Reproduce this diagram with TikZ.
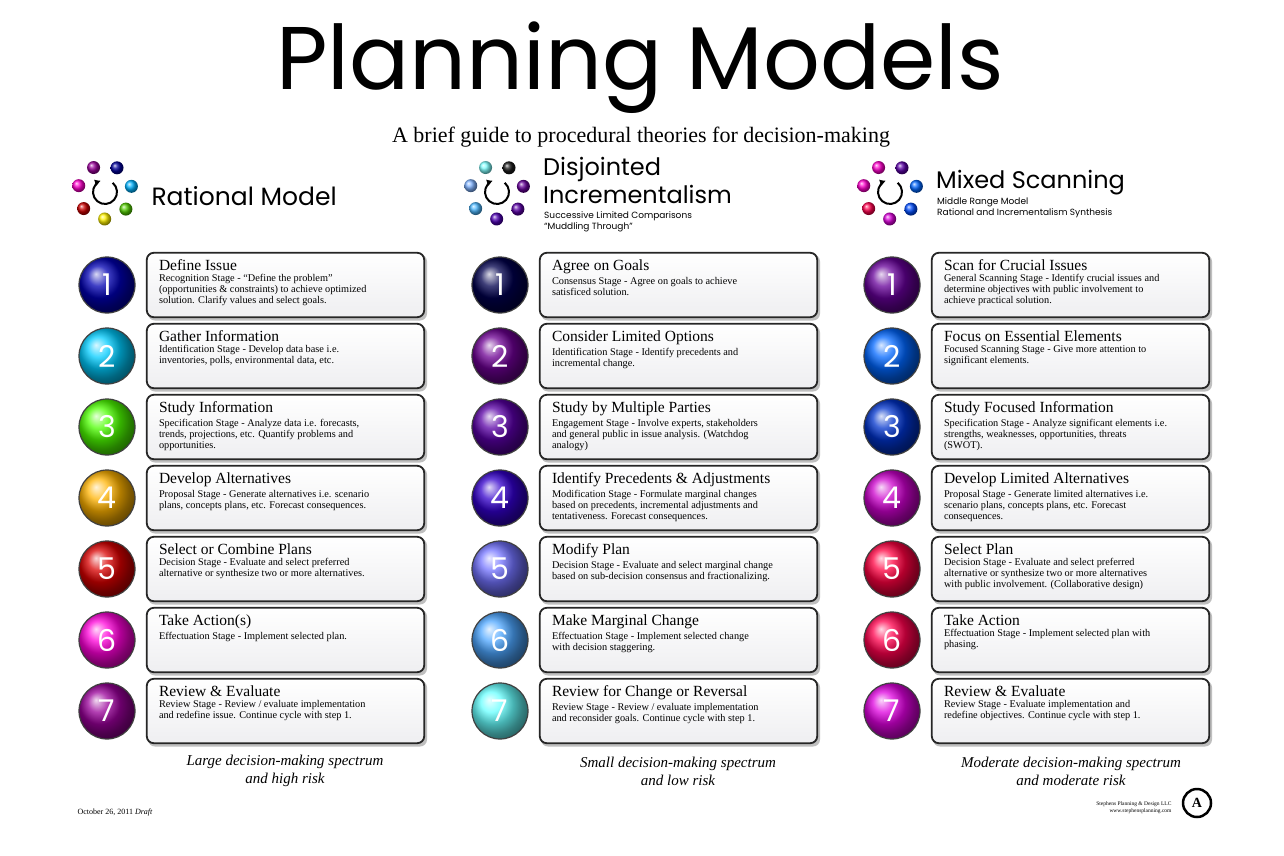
\documentclass[tikz,border=0pt]{standalone}
\usepackage{fontspec}
\setmainfont{Liberation Serif}
\newfontfamily\headfont{Poppins}
\usetikzlibrary{arrows.meta,calc}
\tikzset{
  numball/.style={circle, minimum size=56pt, inner sep=0pt, text=white, font=\headfont\fontsize{30}{30}\selectfont},
  stagebox/.style={rounded corners=7pt, minimum width=277pt, minimum height=64pt, top color=white, bottom color=blue!8!gray!12},
  rim/.style={draw=black!85, line width=1.8pt, rounded corners=7pt},
  ballrim/.style={draw=black!75, line width=1.2pt},
  shadowbox/.style={rounded corners=7pt, fill=black!25, minimum width=279pt, minimum height=66pt},
  stagetitle/.style={anchor=north west, align=left, inner sep=0pt, font=\fontsize{15.5}{16}\selectfont},
  stagebody/.style={anchor=north west, align=left, inner sep=0pt, font=\fontsize{10.3}{11}\selectfont},
  dot/.style={circle, minimum size=13pt, inner sep=0pt},
  caption/.style={align=center, font=\itshape\fontsize{15}{18}\selectfont},
}
\newcommand\stg[7]{%
  \node[numball, ball color=#3] (c#5) at (#1,#2) {#4};
  \draw[ballrim] (c#5.center) circle[radius=28pt];
  \node[shadowbox] (sh#5) at ([xshift=180.5pt,yshift=-2.5pt]c#5.center) {};
  \node[stagebox] (b#5) at ([xshift=178.5pt]c#5.center) {};
  \draw[rim] (b#5.north west) rectangle (b#5.south east);
  \node[stagetitle] (t#5) at ([xshift=12pt,yshift=-7pt]b#5.north west) {#6};
  \node[stagebody] (d#5) at ([yshift=-3pt]t#5.south west) {#7};
}
\newcommand\icon[9]{%
  \coordinate (#1) at #2;
  \foreach \cc [count=\k from 0] in {#3,#4,#5,#6,#7,#8,#9}
    \node[dot, ball color=\cc] (#1d\k) at ($(#1)+(-115+\k*51.43:27)$) {};
  \draw[line width=2pt, -{Latex[length=6pt,width=7pt]}] ($(#1)+(-50:12)$) arc[start angle=-50, end angle=250, radius=12];
}
\begin{document}
\begin{tikzpicture}[x=1pt,y=-1pt]
\fill[white] (0,0) rectangle (1284,856);
\useasboundingbox (0,0) rectangle (1284,856);
\node[font=\headfont\fontsize{89}{89}\selectfont] (title) at (640,68) {Planning Models};
\node[font=\fontsize{22}{24}\selectfont] (sub) at (641,137) {A brief guide to procedural theories for decision-making};

\icon{i1}{(105,192)}{violet!80!magenta}{blue!60!black}{cyan!70!blue}{green!60!yellow!80!black}{yellow!90!orange}{red!80!black}{magenta!80!red}
\icon{i2}{(497,192)}{cyan!50}{black!90}{violet!80!blue}{violet!70!blue}{violet!60!blue}{blue!40!cyan!70}{cyan!40!blue!50}
\icon{i3}{(890,192)}{magenta!80!red}{violet!70!blue}{blue!60!cyan}{blue!70!cyan}{magenta!70!violet}{red!70!magenta}{magenta!80!red}

\node[anchor=west, font=\headfont\fontsize{25}{26}\selectfont] (h1) at (148,196) {Rational Model};
\node[anchor=west, align=left, inner sep=0pt, font=\headfont\fontsize{24}{28}\selectfont] (h2) at (543,180) {Disjointed\\Incrementalism};
\node[anchor=north west, align=left, inner sep=0pt, font=\headfont\fontsize{9}{11}\selectfont] (h2s) at (544,211) {Successive Limited Comparisons\\“Muddling Through”};
\node[anchor=west, font=\headfont\fontsize{24}{26}\selectfont, inner sep=0pt] (h3) at (936,183) {Mixed Scanning};
\node[anchor=north west, align=left, inner sep=0pt, font=\headfont\fontsize{9}{11}\selectfont] (h3s) at (937,197) {Middle Range Model\\Rational and Incrementalism Synthesis};

\stg{107}{285}{blue!70!black}{1}{a1}{Define Issue}{Recognition Stage - “Define the problem”\\(opportunities \& constraints) to achieve optimized\\solution. Clarify values and select goals.}
\stg{107}{356}{cyan!80!blue}{2}{a2}{Gather Information}{Identification Stage - Develop data base i.e.\\inventories, polls, environmental data, etc.}
\stg{107}{427}{green!70!yellow}{3}{a3}{Study Information}{Specification Stage - Analyze data i.e. forecasts,\\trends, projections, etc. Quantify problems and\\opportunities.}
\stg{107}{498}{orange!60!yellow}{4}{a4}{Develop Alternatives}{Proposal Stage - Generate alternatives i.e. scenario\\plans, concepts plans, etc. Forecast consequences.}
\stg{107}{569}{red!85!black}{5}{a5}{Select or Combine Plans}{Decision Stage - Evaluate and select preferred\\alternative or synthesize two or more alternatives.}
\stg{107}{640}{magenta!85!red}{6}{a6}{Take Action(s)}{Effectuation Stage - Implement selected plan.}
\stg{107}{711}{violet!80!magenta}{7}{a7}{Review \& Evaluate}{Review Stage - Review / evaluate implementation\\and redefine issue. Continue cycle with step 1.}

\stg{500}{285}{blue!30!black}{1}{m1}{Agree on Goals}{Consensus Stage - Agree on goals to achieve\\satisficed solution.}
\stg{500}{356}{violet!85!blue}{2}{m2}{Consider Limited Options}{Identification Stage - Identify precedents and\\incremental change.}
\stg{500}{427}{violet!70!blue}{3}{m3}{Study by Multiple Parties}{Engagement Stage - Involve experts, stakeholders\\and general public in issue analysis. (Watchdog\\analogy)}
\stg{500}{498}{blue!60!violet}{4}{m4}{Identify Precedents \& Adjustments}{Modification Stage - Formulate marginal changes\\based on precedents, incremental adjustments and\\tentativeness. Forecast consequences.}
\stg{500}{569}{blue!55!white}{5}{m5}{Modify Plan}{Decision Stage - Evaluate and select marginal change\\based on sub-decision consensus and fractionalizing.}
\stg{500}{640}{cyan!50!blue!70}{6}{m6}{Make Marginal Change}{Effectuation Stage - Implement selected change\\with decision staggering.}
\stg{500}{711}{cyan!60}{7}{m7}{Review for Change or Reversal}{Review Stage - Review / evaluate implementation\\and reconsider goals. Continue cycle with step 1.}

\stg{892}{285}{violet!80!blue}{1}{s1}{Scan for Crucial Issues}{General Scanning Stage - Identify crucial issues and\\determine objectives with public involvement to\\achieve practical solution.}
\stg{892}{356}{blue!60!cyan}{2}{s2}{Focus on Essential Elements}{Focused Scanning Stage - Give more attention to\\significant elements.}
\stg{892}{427}{blue!75!cyan!80!black}{3}{s3}{Study Focused Information}{Specification Stage - Analyze significant elements i.e.\\strengths, weaknesses, opportunities, threats\\(SWOT).}
\stg{892}{498}{magenta!60!violet}{4}{s4}{Develop Limited Alternatives}{Proposal Stage - Generate limited alternatives i.e.\\scenario plans, concepts plans, etc. Forecast\\consequences.}
\stg{892}{569}{red!75!magenta}{5}{s5}{Select Plan}{Decision Stage - Evaluate and select preferred\\alternative or synthesize two or more alternatives\\with public involvement. (Collaborative design)}
\stg{892}{640}{red!70!magenta}{6}{s6}{Take Action}{Effectuation Stage - Implement selected plan with\\phasing.}
\stg{892}{711}{magenta!75!violet}{7}{s7}{Review \& Evaluate}{Review Stage - Evaluate implementation and\\redefine objectives. Continue cycle with step 1.}

\node[caption] (cap1) at (285,771) {Large decision-making spectrum\\and high risk};
\node[caption] (cap2) at (678,771) {Small decision-making spectrum\\and low risk};
\node[caption] (cap3) at (1071,771) {Moderate decision-making spectrum\\and moderate risk};

\node[anchor=west, font=\fontsize{8}{9}\selectfont] (date) at (74,813) {October 26, 2011 \textit{Draft}};
\node[anchor=east, align=right, font=\fontsize{5.5}{7}\selectfont] (firm) at (1175,808) {Stephens Planning \& Design LLC\\www.stephensplanning.com};
\node[circle, minimum size=28pt, inner sep=0pt, font=\bfseries\fontsize{14}{14}\selectfont] (logo) at (1197,803) {A};
\draw[line width=2.5pt] (logo.center) circle[radius=14pt];
\end{tikzpicture}
\end{document}
